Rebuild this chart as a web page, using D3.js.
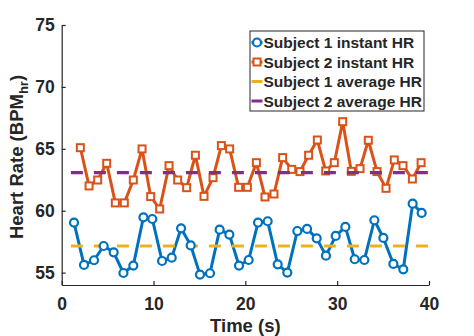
<!DOCTYPE html>
<html>
<head>
<meta charset="utf-8">
<script src="https://cdn.jsdelivr.net/npm/d3@7"></script>
<style>
  body { margin: 0; background: #fff; }
  text { font-family: "Liberation Sans", Arial, sans-serif; font-weight: bold; fill: #262626; }
</style>
</head>
<body>
<div id="chart"></div>
<script>
// time (s) and instant heart rate for each subject
var subject1Time = [1.34, 2.43, 3.52, 4.57, 5.66, 6.72, 7.8, 8.9, 9.87, 10.93, 11.98, 13.0, 14.05,
    15.06, 16.15, 17.2, 18.26, 19.31, 20.36, 21.38, 22.43, 23.52, 24.57, 25.66, 26.72, 27.77,
    28.78, 29.84, 30.89, 31.91, 32.96, 34.05, 35.03, 36.12, 37.2, 38.22, 39.2];
var subject1HR = [59.04, 55.62, 56.0, 57.15, 56.64, 54.97, 55.57, 59.47, 59.33, 55.94, 56.21, 58.58, 57.2,
    54.84, 54.95, 58.47, 58.07, 55.57, 56.02, 59.04, 59.15, 55.67, 55.0, 58.36, 58.53, 57.77,
    56.37, 57.96, 58.69, 56.08, 56.02, 59.23, 57.8, 55.7, 55.27, 60.57, 59.82];

var subject2Time = [2.03, 2.98, 3.92, 4.9, 5.84, 6.82, 7.8, 8.75, 9.69, 10.67, 11.69, 12.63, 13.61,
    14.56, 15.5, 16.48, 17.39, 18.29, 19.27, 20.22, 21.2, 22.14, 23.12, 24.06, 25.05, 25.95,
    26.89, 27.84, 28.75, 29.69, 30.6, 31.54, 32.49, 33.39, 34.34, 35.32, 36.22, 37.17, 38.19, 39.14];
var subject2HR = [65.09, 62.0, 62.48, 63.83, 60.63, 60.63, 62.48, 64.99, 61.14, 60.14, 63.64, 62.48, 61.86,
    64.48, 61.16, 62.67, 65.26, 64.99, 61.89, 61.89, 63.88, 61.11, 61.35, 64.29, 63.34, 63.16,
    64.48, 65.71, 63.21, 63.88, 67.19, 63.18, 63.4, 65.69, 63.16, 61.81, 64.1, 63.64, 62.56, 63.88];

var averageSpan = [1, 40];
var subject1Avg = 57.15;
var subject2Avg = 63.08;

var xTicks = [0, 10, 20, 30, 40];
var yTicks = [55, 60, 65, 70, 75];
var legendLabels = ["Subject 1 instant HR", "Subject 2 instant HR", "Subject 1 average HR", "Subject 2 average HR"];

var colors = {blue: "#0072BD", orange: "#D95319", yellow: "#EDB120", purple: "#7E2F8E"};

var width = 474, height = 336;
var margin = {top: 25, right: 45, bottom: 51, left: 61.7};

var svg = d3.select("#chart").append("svg")
    .attr("width", width)
    .attr("height", height);

var x = d3.scaleLinear().domain([0, 40]).range([margin.left, width - margin.right]);
var y = d3.scaleLinear().domain([54, 75]).range([height - margin.bottom, margin.top]);

// axes (MATLAB style, ticks pointing in)
var xAxis = svg.append("g")
    .attr("transform", "translate(0," + (height - margin.bottom) + ")")
    .call(d3.axisBottom(x).tickValues(xTicks).tickSizeInner(-4).tickSizeOuter(0).tickPadding(9));
var yAxis = svg.append("g")
    .attr("transform", "translate(" + margin.left + ",0)")
    .call(d3.axisLeft(y).tickValues(yTicks).tickSizeInner(-4).tickSizeOuter(0).tickPadding(7));

[xAxis, yAxis].forEach(function(ax) {
    ax.select(".domain").attr("stroke", "#262626").attr("stroke-width", 1.2);
    ax.selectAll(".tick line").attr("stroke", "#262626").attr("stroke-width", 1.2);
    ax.selectAll(".tick text").style("font-size", "17.5px").attr("fill", "#262626");
});
xAxis.selectAll(".tick text").attr("dy", "0.9em");

// axis titles
svg.append("text")
    .attr("x", (x(0) + x(40)) / 2)
    .attr("y", 332)
    .attr("text-anchor", "middle")
    .style("font-size", "18.5px")
    .text("Time (s)");

var yTitle = svg.append("text")
    .attr("transform", "translate(23," + ((y(54) + y(75)) / 2 + 2) + ") rotate(-90)")
    .attr("text-anchor", "middle")
    .style("font-size", "18.5px");
yTitle.append("tspan").text("Heart Rate (BPM");
yTitle.append("tspan").attr("dy", 5).style("font-size", "13px").text("hr");
yTitle.append("tspan").attr("dy", -5).text(")");

// average lines
function avgLine(val, color) {
    svg.append("line")
        .attr("x1", x(averageSpan[0])).attr("x2", x(averageSpan[1]))
        .attr("y1", y(val)).attr("y2", y(val))
        .attr("stroke", color)
        .attr("stroke-width", 3.2)
        .attr("stroke-dasharray", "12,11");
}

var line = d3.line()
    .x(function(d) { return x(d[0]); })
    .y(function(d) { return y(d[1]); });

var s1 = d3.zip(subject1Time, subject1HR);
var s2 = d3.zip(subject2Time, subject2HR);

svg.append("path")
    .datum(s2)
    .attr("d", line)
    .attr("fill", "none")
    .attr("stroke", colors.orange)
    .attr("stroke-width", 3)
    .attr("stroke-linejoin", "round");

svg.selectAll(".sq")
    .data(s2)
    .enter().append("rect")
    .attr("class", "sq")
    .attr("x", function(d) { return x(d[0]) - 3.5; })
    .attr("y", function(d) { return y(d[1]) - 3.5; })
    .attr("width", 7).attr("height", 7)
    .attr("fill", "#fff")
    .attr("stroke", colors.orange)
    .attr("stroke-width", 2);

avgLine(subject2Avg, colors.purple);

svg.append("path")
    .datum(s1)
    .attr("d", line)
    .attr("fill", "none")
    .attr("stroke", colors.blue)
    .attr("stroke-width", 3)
    .attr("stroke-linejoin", "round");

avgLine(subject1Avg, colors.yellow);

svg.selectAll(".dot")
    .data(s1)
    .enter().append("circle")
    .attr("class", "dot")
    .attr("cx", function(d) { return x(d[0]); })
    .attr("cy", function(d) { return y(d[1]); })
    .attr("r", 4)
    .attr("fill", "#fff")
    .attr("stroke", colors.blue)
    .attr("stroke-width", 2.2);

// legend
var legend = svg.append("g").attr("transform", "translate(250,31)");
legend.append("rect")
    .attr("width", 174).attr("height", 80)
    .attr("fill", "#fff")
    .attr("stroke", "#262626")
    .attr("stroke-width", 1);

var legendColors = [colors.blue, colors.orange, colors.yellow, colors.purple];
legendLabels.forEach(function(lab, i) {
    var ly = 11.5 + i * 19.5;
    legend.append("line")
        .attr("x1", 1.5).attr("x2", 12.5)
        .attr("y1", ly).attr("y2", ly)
        .attr("stroke", legendColors[i])
        .attr("stroke-width", 3);
    if (i === 0) {
        legend.append("circle").attr("cx", 7).attr("cy", ly).attr("r", 4)
            .attr("fill", "#fff").attr("stroke", colors.blue).attr("stroke-width", 2.2);
    } else if (i === 1) {
        legend.append("rect").attr("x", 3.5).attr("y", ly - 3.5).attr("width", 7).attr("height", 7)
            .attr("fill", "#fff").attr("stroke", colors.orange).attr("stroke-width", 2);
    }
    legend.append("text")
        .attr("x", 13.5).attr("y", ly)
        .attr("dy", "0.36em")
        .style("font-size", "15.5px")
        .text(lab);
});
</script>
</body>
</html>
